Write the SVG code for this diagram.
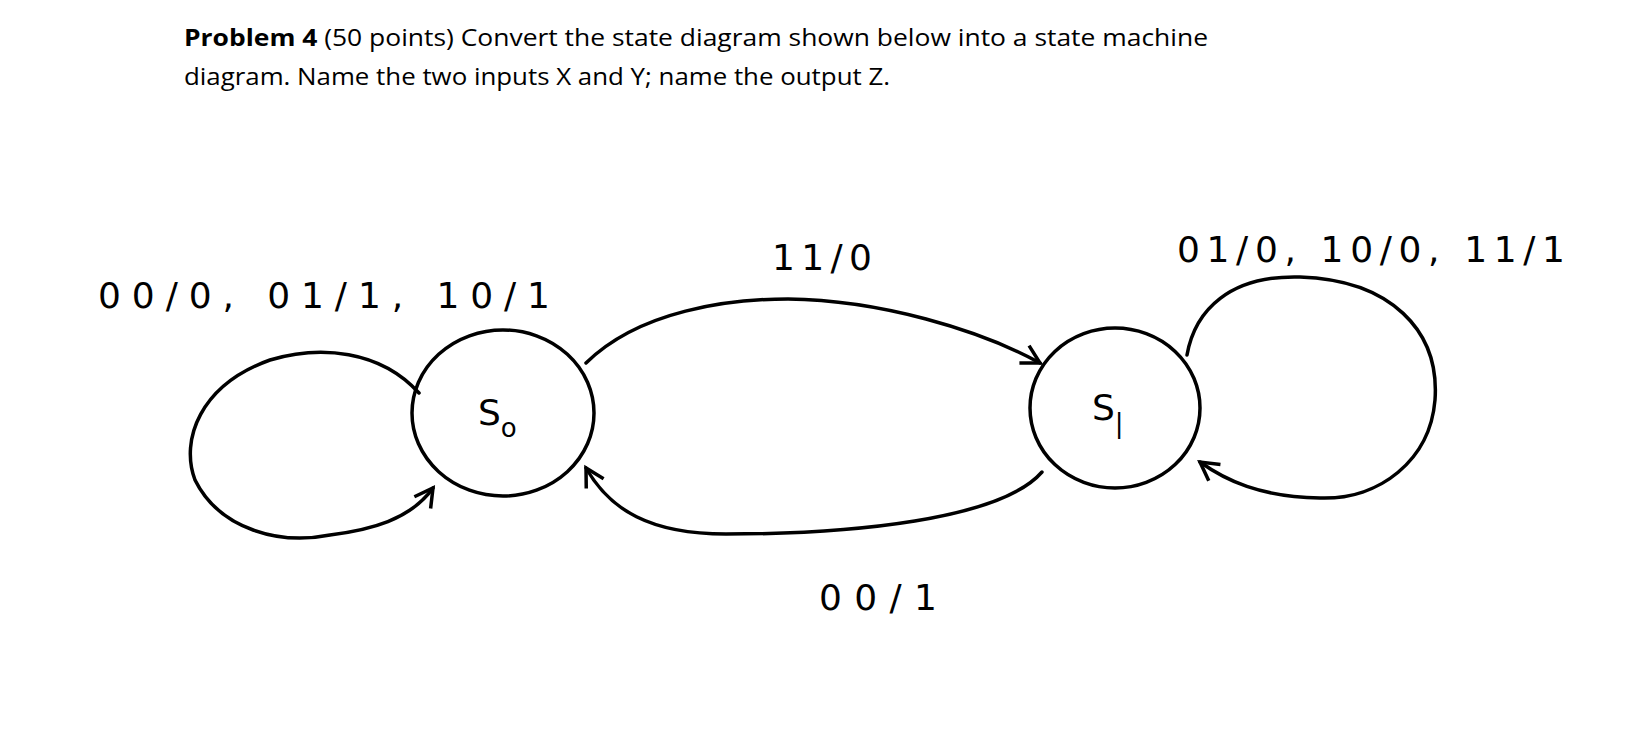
<svg xmlns="http://www.w3.org/2000/svg" width="1626" height="744" viewBox="0 0 1626 744">
<style>
.t{font-family:"Open Sans","Liberation Sans",sans-serif;font-size:24px;fill:#000}
.h{font-family:"DejaVu Sans",sans-serif;font-size:36px;fill:#000}
.s{fill:none;stroke:#000;stroke-width:3.5;stroke-linecap:round;stroke-linejoin:round}
</style>
<defs><marker id="a" markerWidth="24" markerHeight="24" refX="20" refY="12" orient="auto" markerUnits="userSpaceOnUse"><path d="M2,2 L20,12 L2,22" fill="none" stroke="#000" stroke-width="3.5"/></marker></defs>
<rect width="1626" height="744" fill="#fff"/>
<text class="t" x="184" y="46" textLength="1024" lengthAdjust="spacingAndGlyphs"><tspan font-weight="bold">Problem 4</tspan> (50 points)  Convert the state diagram shown below into a state machine</text>
<text class="t" x="184" y="85" textLength="706" lengthAdjust="spacingAndGlyphs">diagram. Name the two inputs X and Y; name the output  Z.</text>
<g id="S0"><ellipse class="s" cx="503" cy="413" rx="91" ry="83"/><text class="h" x="478" y="425" font-size="42">S<tspan font-size="26" dy="12">o</tspan></text></g>
<g id="S1"><ellipse class="s" cx="1115" cy="408" rx="85" ry="80"/><text class="h" x="1092" y="420" font-size="42">S<tspan font-size="26" dy="12">|</tspan></text></g>
<g id="connectors">
<path class="s" d="M419,393 C380,350 320,345 270,360 C200,385 180,440 195,480 C220,530 280,545 330,535 C370,530 410,520 433,488" marker-end="url(#a)"/>
<path class="s" d="M586,363 C640,310 730,299 788,299 C880,300 980,330 1040,363" marker-end="url(#a)"/>
<path class="s" d="M1042,472 C1000,520 850,534 726,534 C650,534 610,510 586,468" marker-end="url(#a)"/>
<path class="s" d="M1187,355 C1195,310 1230,275 1300,277 C1390,280 1440,330 1435,400 C1430,460 1380,500 1320,498 C1260,497 1225,480 1200,462" marker-end="url(#a)"/>
</g>
<text class="h" x="98" y="308" textLength="452" lengthAdjust="spacing">00/0, 01/1, 10/1</text>
<text class="h" x="772" y="270" textLength="100" lengthAdjust="spacing">11/0</text>
<text class="h" x="1177" y="262" textLength="388" lengthAdjust="spacing">01/0, 10/0, 11/1</text>
<text class="h" x="819" y="610" textLength="118" lengthAdjust="spacing">00/1</text>
</svg>
